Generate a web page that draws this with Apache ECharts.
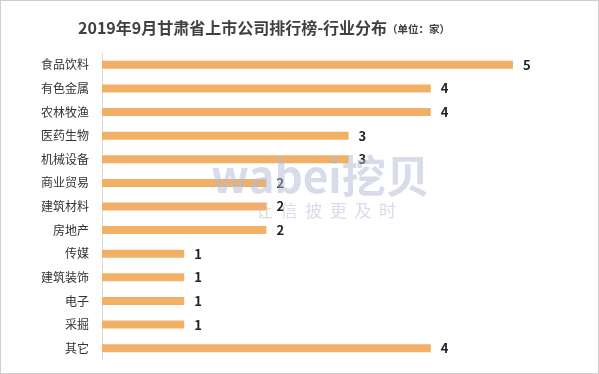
<!DOCTYPE html>
<html><head><meta charset="utf-8">
<script src="https://cdn.jsdelivr.net/npm/echarts@6/dist/echarts.min.js"></script>
<style>html,body{margin:0;padding:0;background:#fff}#c{width:599px;height:374px;box-sizing:border-box;border:1px solid #cfcfcf}</style>
</head><body><div id="c"></div>
<script>
const categories = ['食品饮料','有色金属','农林牧渔','医药生物','机械设备','商业贸易','建筑材料','房地产','传媒','建筑装饰','电子','采掘','其它'];
const values = [5,4,4,3,3,2,2,2,1,1,1,1,4];
const titleMain = '2019年9月甘肃省上市公司排行榜-行业分布';
const titleUnit = '（单位：家）';

const chart = echarts.init(document.getElementById('c'));
chart.setOption({
  backgroundColor: '#fff',
  animation: false,
  title: {
    text: '{a|' + titleMain + '}{b|' + titleUnit + '}',
    left: 72, top: 14,
    textStyle: {
      rich: {
        a: {fontFamily: 'Noto Sans CJK SC', fontSize: 16, fontWeight: 'bold', color: '#404040'},
        b: {fontFamily: 'Noto Sans CJK SC', fontSize: 10.5, color: '#404040', padding: [3,0,0,0]}
      }
    }
  },
  grid: {left: 101, right: 85, top: 52, bottom: 13, containLabel: false},
  xAxis: {type: 'value', min: 0, max: 5, show: false},
  yAxis: {
    type: 'category', inverse: true, data: categories,
    axisLine: {show: true, lineStyle: {color: '#d9d9d9'}},
    axisTick: {show: false},
    axisLabel: {fontFamily: 'Noto Sans CJK SC', fontSize: 12, color: '#333', margin: 13}
  },
  series: [{
    type: 'bar', data: values, barWidth: 8,
    itemStyle: {color: '#f2b066'},
    label: {show: true, position: 'right', distance: 10, fontFamily: 'Noto Sans CJK SC',
      fontSize: 13, fontWeight: 'bold', color: '#222'}
  }],
  graphic: [
    {type: 'text', left: 210, top: 153, z: 100, silent: true,
      style: {text: 'wabei挖贝', font: 'bold 44px "Noto Sans CJK SC"', fill: 'rgba(178,186,214,0.5)'}},
    {type: 'text', left: 255, top: 201, z: 100, silent: true,
      style: {text: '让  信  披  更  及  时', font: '17px "Noto Sans CJK SC"', fill: 'rgba(178,186,214,0.5)'}}
  ]
});
</script></body></html>
